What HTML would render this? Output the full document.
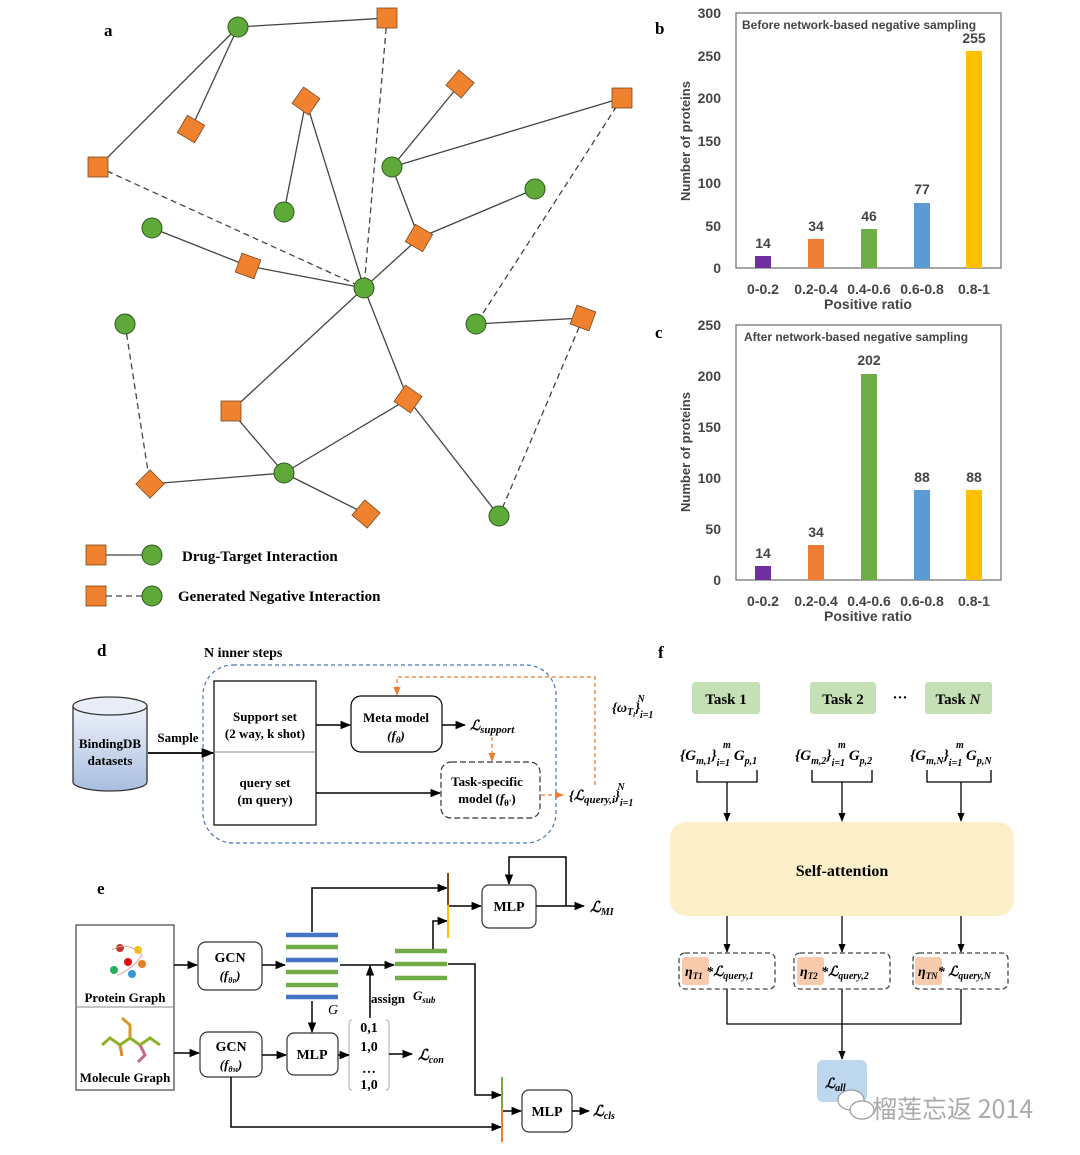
<!DOCTYPE html>
<html><head><meta charset="utf-8"><style>
body{margin:0;background:#fff}
svg{display:block}
.t{font-family:"Liberation Serif",serif;font-weight:bold;fill:#000}
.s{font-family:"Liberation Sans",sans-serif;fill:#555}
.sb{font-family:"Liberation Sans",sans-serif;fill:#444;font-weight:bold}
.i{font-family:"Liberation Serif",serif;font-style:italic;font-weight:bold;fill:#000}
</style></head><body>
<svg width="1080" height="1155" viewBox="0 0 1080 1155" xmlns="http://www.w3.org/2000/svg">
<defs>
<marker id="a" viewBox="0 0 10 10" refX="9" refY="5" markerWidth="7" markerHeight="7" orient="auto"><path d="M0,1 L10,5 L0,9z" fill="#000"/></marker>
<marker id="o" viewBox="0 0 10 10" refX="9" refY="5" markerWidth="7" markerHeight="7" orient="auto"><path d="M0,1 L10,5 L0,9z" fill="#ed7d31"/></marker>
</defs>
<!-- panel a -->
<text x="104" y="36" class="t" font-size="17">a</text>
<g stroke="#444" stroke-width="1.3">
<line x1="238" y1="27" x2="387" y2="18"/><line x1="238" y1="27" x2="98" y2="167"/><line x1="238" y1="27" x2="191" y2="129"/>
<line x1="306" y1="101" x2="284" y2="212"/><line x1="306" y1="101" x2="364" y2="288"/>
<line x1="460" y1="84" x2="392" y2="167"/><line x1="392" y1="167" x2="622" y2="98"/><line x1="392" y1="167" x2="419" y2="238"/>
<line x1="419" y1="238" x2="535" y2="189"/><line x1="419" y1="238" x2="364" y2="288"/>
<line x1="152" y1="228" x2="248" y2="266"/><line x1="248" y1="266" x2="364" y2="288"/>
<line x1="364" y1="288" x2="231" y2="411"/><line x1="364" y1="288" x2="408" y2="399"/>
<line x1="408" y1="399" x2="499" y2="516"/><line x1="408" y1="399" x2="284" y2="473"/>
<line x1="231" y1="411" x2="284" y2="473"/><line x1="284" y1="473" x2="150" y2="484"/><line x1="284" y1="473" x2="366" y2="514"/>
<line x1="476" y1="324" x2="583" y2="318"/>
<g stroke-dasharray="6,4">
<line x1="387" y1="18" x2="364" y2="288"/><line x1="98" y1="167" x2="364" y2="288"/>
<line x1="125" y1="324" x2="150" y2="484"/><line x1="622" y1="98" x2="476" y2="324"/><line x1="583" y1="318" x2="499" y2="516"/>
</g>
<line x1="96" y1="555" x2="152" y2="555"/><line x1="96" y1="596" x2="152" y2="596" stroke-dasharray="6,4"/>
</g>
<g fill="#f0822f" stroke="#7a4a20" stroke-width="0.8">
<rect x="377" y="8" width="20" height="20"/><rect x="88" y="157" width="20" height="20"/><rect x="612" y="88" width="20" height="20"/><rect x="221" y="401" width="20" height="20"/>
<rect x="181" y="119" width="20" height="20" transform="rotate(30 191 129)"/>
<rect x="296" y="91" width="20" height="20" transform="rotate(35 306 101)"/>
<rect x="450" y="74" width="20" height="20" transform="rotate(40 460 84)"/>
<rect x="409" y="228" width="20" height="20" transform="rotate(30 419 238)"/>
<rect x="238" y="256" width="20" height="20" transform="rotate(20 248 266)"/>
<rect x="573" y="308" width="20" height="20" transform="rotate(20 583 318)"/>
<rect x="398" y="389" width="20" height="20" transform="rotate(35 408 399)"/>
<rect x="140" y="474" width="20" height="20" transform="rotate(45 150 484)"/>
<rect x="356" y="504" width="20" height="20" transform="rotate(40 366 514)"/>
<rect x="86" y="545" width="20" height="20"/><rect x="86" y="586" width="20" height="20"/>
</g>
<g fill="#5fa83a" stroke="#2d5a1a" stroke-width="1">
<circle cx="238" cy="27" r="10"/><circle cx="284" cy="212" r="10"/><circle cx="392" cy="167" r="10"/><circle cx="535" cy="189" r="10"/>
<circle cx="152" cy="228" r="10"/><circle cx="364" cy="288" r="10"/><circle cx="125" cy="324" r="10"/><circle cx="476" cy="324" r="10"/>
<circle cx="284" cy="473" r="10"/><circle cx="499" cy="516" r="10"/><circle cx="152" cy="555" r="10"/><circle cx="152" cy="596" r="10"/>
</g>
<text x="182" y="561" class="t" font-size="15">Drug-Target Interaction</text>
<text x="178" y="601" class="t" font-size="15">Generated Negative Interaction</text>

<!-- panel b -->
<text x="655" y="34" class="t" font-size="17">b</text>
<rect x="736" y="13" width="265" height="255" fill="none" stroke="#777" stroke-width="1.3"/>
<text x="742" y="29" class="sb" font-size="12">Before network-based negative sampling</text>
<g class="sb" font-size="14" text-anchor="end">
<text x="721" y="273">0</text><text x="721" y="231">50</text><text x="721" y="188">100</text><text x="721" y="146">150</text><text x="721" y="103">200</text><text x="721" y="61">250</text><text x="721" y="18">300</text>
</g>
<text transform="translate(690 141) rotate(-90)" class="sb" font-size="13" text-anchor="middle">Number of proteins</text>
<rect x="755" y="256" width="16" height="12" fill="#7030a0"/><rect x="808" y="239" width="16" height="29" fill="#ed7d31"/><rect x="861" y="229" width="16" height="39" fill="#70ad47"/><rect x="914" y="203" width="16" height="65" fill="#5b9bd5"/><rect x="966" y="51" width="16" height="217" fill="#ffc000"/>
<g class="sb" font-size="14" text-anchor="middle">
<text x="763" y="248">14</text><text x="816" y="231">34</text><text x="869" y="221">46</text><text x="922" y="194">77</text><text x="974" y="43">255</text>
<text x="763" y="294">0-0.2</text><text x="816" y="294">0.2-0.4</text><text x="869" y="294">0.4-0.6</text><text x="922" y="294">0.6-0.8</text><text x="974" y="294">0.8-1</text>
<text x="868" y="309">Positive ratio</text>
</g>
<!-- panel c -->
<text x="655" y="338" class="t" font-size="17">c</text>
<rect x="736" y="325" width="265" height="255" fill="none" stroke="#777" stroke-width="1.3"/>
<text x="744" y="341" class="sb" font-size="12">After network-based negative sampling</text>
<g class="sb" font-size="14" text-anchor="end">
<text x="721" y="585">0</text><text x="721" y="534">50</text><text x="721" y="483">100</text><text x="721" y="432">150</text><text x="721" y="381">200</text><text x="721" y="330">250</text>
</g>
<text transform="translate(690 452) rotate(-90)" class="sb" font-size="13" text-anchor="middle">Number of proteins</text>
<rect x="755" y="566" width="16" height="14" fill="#7030a0"/><rect x="808" y="545" width="16" height="35" fill="#ed7d31"/><rect x="861" y="374" width="16" height="206" fill="#70ad47"/><rect x="914" y="490" width="16" height="90" fill="#5b9bd5"/><rect x="966" y="490" width="16" height="90" fill="#ffc000"/>
<g class="sb" font-size="14" text-anchor="middle">
<text x="763" y="558">14</text><text x="816" y="537">34</text><text x="869" y="365">202</text><text x="922" y="482">88</text><text x="974" y="482">88</text>
<text x="763" y="606">0-0.2</text><text x="816" y="606">0.2-0.4</text><text x="869" y="606">0.4-0.6</text><text x="922" y="606">0.6-0.8</text><text x="974" y="606">0.8-1</text>
<text x="868" y="621">Positive ratio</text>
</g>

<!-- panel d -->
<text x="97" y="656" class="t" font-size="17">d</text>
<text x="204" y="657" class="t" font-size="14">N inner steps</text>
<rect x="203" y="665" width="353" height="178" rx="30" fill="none" stroke="#4a74b8" stroke-dasharray="4,3" stroke-width="1.2"/>
<defs><linearGradient id="cy" x1="0" x2="0" y1="0" y2="1"><stop offset="0" stop-color="#eef2fa"/><stop offset="1" stop-color="#a9bee0"/></linearGradient></defs>
<path d="M73,706 L73,782 A37,9 0 0 0 147,782 L147,706" fill="url(#cy)" stroke="#333" stroke-width="1.3"/>
<ellipse cx="110" cy="706" rx="37" ry="9" fill="#e8edf7" stroke="#333" stroke-width="1.3"/>
<text x="110" y="748" class="t" font-size="13" text-anchor="middle">BindingDB</text>
<text x="110" y="765" class="t" font-size="13" text-anchor="middle">datasets</text>
<line x1="148" y1="753" x2="213" y2="753" stroke="#000" stroke-width="1.8" marker-end="url(#a)"/>
<text x="178" y="742" class="t" font-size="13" text-anchor="middle">Sample</text>
<rect x="214" y="681" width="102" height="144" fill="#fff" stroke="#000" stroke-width="1.2"/>
<line x1="214" y1="752" x2="316" y2="752" stroke="#888"/>
<g class="t" font-size="13" text-anchor="middle">
<text x="265" y="721">Support set</text><text x="265" y="738">(2 way, k shot)</text>
<text x="265" y="787">query set</text><text x="265" y="804">(m query)</text>
<text x="487" y="786">Task-specific</text>
</g>
<text x="487" y="803" class="t" font-size="13" text-anchor="middle">model (<tspan font-style="italic">f</tspan><tspan font-size="9" dy="3">θ'</tspan><tspan dy="-3">)</tspan></text>
<rect x="351" y="696" width="91" height="56" rx="10" fill="#fff" stroke="#000" stroke-width="1.2"/>
<text x="396" y="722" class="t" font-size="13" text-anchor="middle">Meta model</text>
<text x="396" y="740" class="i" font-size="13" text-anchor="middle">(f<tspan font-size="9" dy="3">θ</tspan><tspan dy="-3">)</tspan></text>
<rect x="441" y="762" width="99" height="56" rx="10" fill="none" stroke="#333" stroke-dasharray="6,3" stroke-width="1.2"/>
<line x1="316" y1="725" x2="350" y2="725" stroke="#000" stroke-width="1.5" marker-end="url(#a)"/>
<line x1="442" y1="725" x2="465" y2="725" stroke="#000" stroke-width="1.5" marker-end="url(#a)"/>
<line x1="316" y1="793" x2="440" y2="793" stroke="#000" stroke-width="1.5" marker-end="url(#a)"/>
<text x="470" y="730" class="i" font-size="14">ℒ<tspan font-size="11" dy="3">support</tspan></text>
<g stroke="#ed7d31" stroke-width="1.3" stroke-dasharray="4,3" fill="none">
<line x1="492" y1="737" x2="492" y2="761" marker-end="url(#o)"/>
<line x1="541" y1="795" x2="563" y2="795" marker-end="url(#o)"/>
<polyline points="595,785 595,677 397,677 397,695" marker-end="url(#o)"/>
</g>
<text x="569" y="800" class="i" font-size="14">{ℒ<tspan font-size="11" dy="3">query,i</tspan><tspan dy="-3">}</tspan><tspan font-size="10" dy="6">i=1</tspan><tspan font-size="10" dx="-16" dy="-16">N</tspan></text>
<text x="612" y="712" class="i" font-size="14">{ω<tspan font-size="10" dy="3">T<tspan font-size="7" dy="2">i</tspan></tspan><tspan dy="-5">}</tspan><tspan font-size="10" dy="6">i=1</tspan><tspan font-size="10" dx="-16" dy="-16">N</tspan></text>

<!-- panel e -->
<text x="97" y="894" class="t" font-size="17">e</text>
<rect x="76" y="925" width="98" height="165" fill="#fff" stroke="#444" stroke-width="1.2"/>
<line x1="76" y1="1007" x2="174" y2="1007" stroke="#888"/>
<g>
<circle cx="120" cy="948" r="4" fill="#c0392b"/><circle cx="138" cy="950" r="4" fill="#f1c40f"/><circle cx="128" cy="962" r="4" fill="#e31010"/><circle cx="142" cy="964" r="4" fill="#e67e22"/><circle cx="114" cy="970" r="4" fill="#27ae60"/><circle cx="132" cy="974" r="4" fill="#3498db"/>
<path d="M112,950 q15,-10 30,5 q-10,15 -25,20" fill="none" stroke="#d9a0a0" stroke-width="1"/>
</g>
<text x="125" y="1002" class="t" font-size="13" text-anchor="middle">Protein Graph</text>
<polyline points="102,1045 110,1038 120,1045 130,1038 140,1045 150,1038 160,1045" fill="none" stroke="#8cb32a" stroke-width="3"/>
<polyline points="130,1038 130,1025 122,1018" fill="none" stroke="#d99a2a" stroke-width="3"/>
<polyline points="140,1045 145,1055 138,1062" fill="none" stroke="#cc6688" stroke-width="3"/>
<polyline points="120,1045 122,1056" fill="none" stroke="#d98a2a" stroke-width="3"/>
<text x="125" y="1082" class="t" font-size="13" text-anchor="middle">Molecule Graph</text>
<g fill="#fff" stroke="#333" stroke-width="1.2">
<rect x="198" y="942" width="64" height="48" rx="8"/><rect x="200" y="1032" width="62" height="45" rx="8"/>
<rect x="287" y="1033" width="51" height="42" rx="7"/><rect x="482" y="885" width="54" height="43" rx="7"/><rect x="522" y="1090" width="50" height="42" rx="7"/>
</g>
<g class="t" font-size="14" text-anchor="middle">
<text x="230" y="962">GCN</text><text x="231" y="1051">GCN</text>
<text x="312" y="1059">MLP</text><text x="509" y="911">MLP</text><text x="547" y="1116">MLP</text>
</g>
<text x="230" y="980" class="i" font-size="13" text-anchor="middle">(f<tspan font-size="8" dy="3">θ<tspan font-size="6">P</tspan></tspan><tspan dy="-3">)</tspan></text>
<text x="231" y="1069" class="i" font-size="13" text-anchor="middle">(f<tspan font-size="8" dy="3">θ<tspan font-size="6">M</tspan></tspan><tspan dy="-3">)</tspan></text>
<g stroke-width="4.5">
<line x1="286" y1="935" x2="338" y2="935" stroke="#4472c4"/><line x1="286" y1="947" x2="338" y2="947" stroke="#70ad47"/><line x1="286" y1="960" x2="338" y2="960" stroke="#4472c4"/><line x1="286" y1="972" x2="338" y2="972" stroke="#70ad47"/><line x1="286" y1="985" x2="338" y2="985" stroke="#70ad47"/><line x1="286" y1="997" x2="338" y2="997" stroke="#4472c4"/>
<line x1="395" y1="951" x2="447" y2="951" stroke="#70ad47"/><line x1="395" y1="964" x2="447" y2="964" stroke="#70ad47"/><line x1="395" y1="978" x2="447" y2="978" stroke="#70ad47"/>
</g>
<text x="328" y="1014" class="i" font-size="14" style="font-weight:normal">G</text>
<text x="371" y="1003" class="t" font-size="13">assign</text>
<text x="413" y="1000" class="i" font-size="13">G<tspan font-size="9" dy="3">sub</tspan></text>
<path d="M352,1020 q-3,0 -3,4 v62 q0,4 3,4 M386,1020 q3,0 3,4 v62 q0,4 -3,4" fill="none" stroke="#9ab89a" stroke-width="1"/>
<g class="t" font-size="14" text-anchor="middle"><text x="369" y="1032">0,1</text><text x="369" y="1051">1,0</text><text x="369" y="1073">…</text><text x="369" y="1089">1,0</text></g>
<g stroke="#000" stroke-width="1.5" fill="none">
<line x1="174" y1="965" x2="197" y2="965" marker-end="url(#a)"/><line x1="174" y1="1053" x2="199" y2="1053" marker-end="url(#a)"/>
<line x1="262" y1="965" x2="285" y2="965" marker-end="url(#a)"/><line x1="262" y1="1055" x2="286" y2="1055" marker-end="url(#a)"/>
<line x1="312" y1="1001" x2="312" y2="1032" marker-end="url(#a)"/><line x1="338" y1="1055" x2="349" y2="1055" marker-end="url(#a)"/>
<line x1="389" y1="1054" x2="412" y2="1054" marker-end="url(#a)"/>
<line x1="340" y1="965" x2="394" y2="965" marker-end="url(#a)"/><line x1="370" y1="1018" x2="370" y2="966" marker-end="url(#a)"/>
<polyline points="312,932 312,888 447,888" marker-end="url(#a)"/><polyline points="433,949 433,921 447,921" marker-end="url(#a)"/>
<line x1="449" y1="906" x2="481" y2="906" marker-end="url(#a)"/><line x1="536" y1="906" x2="584" y2="906" marker-end="url(#a)"/>
<polyline points="566,906 566,857 509,857 509,884" marker-end="url(#a)"/>
<polyline points="448,964 475,964 475,1095 501,1095" marker-end="url(#a)"/>
<polyline points="231,1077 231,1127 501,1127" marker-end="url(#a)"/>
<line x1="503" y1="1111" x2="521" y2="1111" marker-end="url(#a)"/><line x1="572" y1="1111" x2="589" y2="1111" marker-end="url(#a)"/>
</g>
<line x1="448" y1="873" x2="448" y2="905" stroke="#8b4513" stroke-width="2"/><line x1="448" y1="905" x2="448" y2="938" stroke="#ffc000" stroke-width="2"/>
<line x1="502" y1="1077" x2="502" y2="1108" stroke="#70ad47" stroke-width="2"/><line x1="502" y1="1108" x2="502" y2="1142" stroke="#ed7d31" stroke-width="2"/>
<text x="590" y="912" class="i" font-size="15">ℒ<tspan font-size="10" dy="3">MI</tspan></text>
<text x="418" y="1060" class="i" font-size="15">ℒ<tspan font-size="10" dy="3">con</tspan></text>
<text x="593" y="1116" class="i" font-size="15">ℒ<tspan font-size="10" dy="3">cls</tspan></text>

<!-- panel f -->
<text x="658" y="658" class="t" font-size="17">f</text>
<g fill="#c5e0b4"><rect x="692" y="682" width="68" height="32" rx="3"/><rect x="810" y="682" width="66" height="32" rx="3"/><rect x="925" y="682" width="67" height="32" rx="3"/></g>
<g class="t" font-size="15" text-anchor="middle"><text x="726" y="704">Task 1</text><text x="843" y="704">Task 2</text><text x="958" y="704">Task <tspan font-style="italic">N</tspan></text><text x="900" y="702">···</text></g>
<g class="i" font-size="15">
<text x="680" y="760">{G<tspan font-size="10" dy="4">m,1</tspan><tspan dy="-4">}</tspan><tspan font-size="10" dy="6">i=1</tspan><tspan dy="-6"> G</tspan><tspan font-size="10" dy="4">p,1</tspan></text>
<text x="795" y="760">{G<tspan font-size="10" dy="4">m,2</tspan><tspan dy="-4">}</tspan><tspan font-size="10" dy="6">i=1</tspan><tspan dy="-6"> G</tspan><tspan font-size="10" dy="4">p,2</tspan></text>
<text x="910" y="760">{G<tspan font-size="10" dy="4">m,N</tspan><tspan dy="-4">}</tspan><tspan font-size="10" dy="6">i=1</tspan><tspan dy="-6"> G</tspan><tspan font-size="10" dy="4">p,N</tspan></text>
</g>
<g class="i" font-size="10"><text x="723" y="748">m</text><text x="838" y="748">m</text><text x="956" y="748">m</text></g>
<g stroke="#000" stroke-width="1.3" fill="none">
<polyline points="697,770 697,782 757,782 757,770"/><line x1="727" y1="782" x2="727" y2="821" marker-end="url(#a)"/>
<polyline points="812,770 812,782 872,782 872,770"/><line x1="842" y1="782" x2="842" y2="821" marker-end="url(#a)"/>
<polyline points="927,770 927,782 991,782 991,770"/><line x1="961" y1="782" x2="961" y2="821" marker-end="url(#a)"/>
<line x1="727" y1="916" x2="727" y2="952" marker-end="url(#a)"/><line x1="842" y1="916" x2="842" y2="952" marker-end="url(#a)"/><line x1="961" y1="916" x2="961" y2="952" marker-end="url(#a)"/>
<polyline points="727,989 727,1024 961,1024 961,989"/><line x1="842" y1="989" x2="842" y2="1059" marker-end="url(#a)"/>
</g>
<rect x="670" y="822" width="344" height="94" rx="16" fill="#fdf0c8"/>
<text x="842" y="876" class="t" font-size="16" text-anchor="middle">Self-attention</text>
<g fill="#f8cbad"><rect x="682" y="957" width="27" height="28" rx="3"/><rect x="797" y="957" width="27" height="28" rx="3"/><rect x="915" y="957" width="27" height="28" rx="3"/></g>
<g fill="none" stroke="#444" stroke-dasharray="5,3" stroke-width="1.3"><rect x="679" y="953" width="96" height="36" rx="6"/><rect x="794" y="953" width="96" height="36" rx="6"/><rect x="913" y="953" width="95" height="36" rx="6"/></g>
<g class="i" font-size="14">
<text x="685" y="976">η<tspan font-size="9" dy="3">T1</tspan><tspan dy="-3"> *ℒ</tspan><tspan font-size="10" dy="3">query,1</tspan></text>
<text x="800" y="976">η<tspan font-size="9" dy="3">T2</tspan><tspan dy="-3"> *ℒ</tspan><tspan font-size="10" dy="3">query,2</tspan></text>
<text x="918" y="976">η<tspan font-size="9" dy="3">TN</tspan><tspan dy="-3">* ℒ</tspan><tspan font-size="10" dy="3">query,N</tspan></text>
</g>
<rect x="817" y="1060" width="50" height="42" rx="6" fill="#bdd7ee"/>
<text x="825" y="1088" class="i" font-size="14">ℒ<tspan font-size="10" dy="3">all</tspan></text>
<g fill="#fff" stroke="#999" stroke-width="1.2"><ellipse cx="851" cy="1100" rx="13" ry="10"/><ellipse cx="862" cy="1110" rx="12" ry="9"/></g>
<text x="872" y="1118" font-family="'Noto Sans CJK SC','WenQuanYi Zen Hei',sans-serif" font-size="25" fill="#aaa">榴莲忘返 2014</text>
</svg>
</body></html>
